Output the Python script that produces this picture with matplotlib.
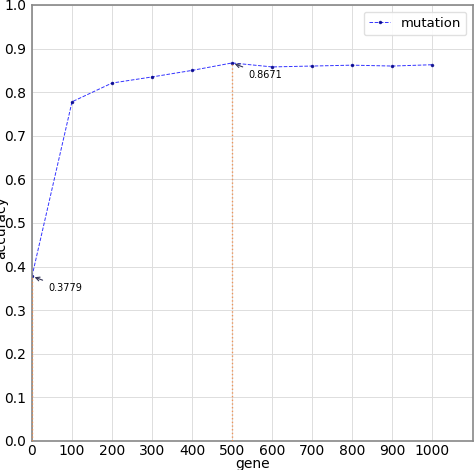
import numpy as np
from matplotlib import pyplot as plt

genes = [0, 100, 200, 300, 400, 500, 600, 700, 800, 900, 1000]
accuracy = [0.3779, 0.778, 0.821, 0.835, 0.850, 0.8671, 0.858, 0.860, 0.862, 0.860, 0.863]
marked = [0, 500]

fig = plt.figure(figsize=(4.74, 4.70), dpi=100)
ax = fig.add_axes([32 / 474, 29 / 470, 441 / 474, 436 / 470])

ax.plot(genes, accuracy, color='blue', linestyle='--', linewidth=0.7, alpha=0.8,
        marker='.', markersize=3, markerfacecolor='darkblue', markeredgecolor='darkblue',
        label='mutation')

for g in marked:
    a = accuracy[genes.index(g)]
    ax.vlines(g, 0, a, colors='#f08c4a', linestyles=':', linewidth=1.0, alpha=0.9, zorder=3)
    ax.annotate(f'{a:.4f}', xy=(g, a), xytext=(g + 40, a - 0.035),
                fontsize=7, arrowprops=dict(arrowstyle='->', color='#333355', linewidth=0.8))

ax.set_xlim(0, 1102)
ax.set_ylim(0, 1.0)
ax.set_xticks(np.arange(0, 1001, 100))
ax.set_yticks(np.arange(0, 1.01, 0.1))
ax.grid(True, color='#dddddd', linewidth=0.7)
ax.tick_params(labelsize=10, length=0)
ax.tick_params(axis='x', pad=2)
ax.tick_params(axis='y', pad=4)
for s in ax.spines.values():
    s.set_color('#888888')
    s.set_linewidth(1.2)

ax.set_xlabel('gene', fontsize=10)
ax.xaxis.set_label_coords(0.5, -0.036)
ax.set_ylabel('accuracy', fontsize=10)
ax.yaxis.set_label_coords(-0.055, 0.489)
ax.legend(loc='upper right', fontsize=9.5, framealpha=0.9, edgecolor='#dddddd',
          handlelength=1.6)

plt.savefig('out.png', dpi=100)
